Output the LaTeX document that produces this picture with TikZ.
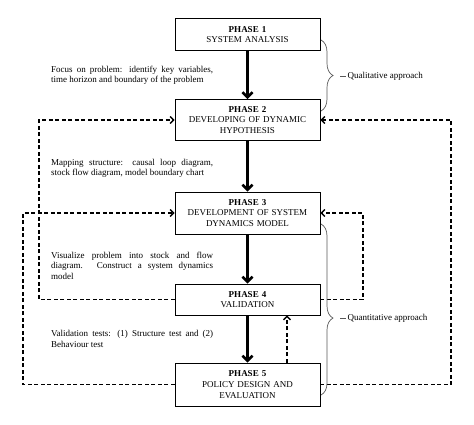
\documentclass[tikz,border=0pt]{standalone}
\usepackage{fontspec}
\setmainfont{Liberation Serif}
\usepackage{tikz}
\usetikzlibrary{arrows.meta}
\usetikzlibrary{decorations.pathreplacing}
\usetikzlibrary{positioning}

\tikzset{
    phase/.style = {draw, line width=0.9pt, minimum width=145pt, text width=140pt,
        align=center, inner sep=2pt, font=\fontsize{9}{10.8}\selectfont},
    note/.style = {text width=162pt, align=justify, inner sep=0pt, anchor=west,
        font=\fontsize{9}{10.6}\selectfont},
    flow/.style = {line width=2.6pt, -{Straight Barb[length=5pt,width=10pt]}},
    back/.style = {line width=1.4pt, dash pattern=on 4pt off 2.5pt,
        -{Straight Barb[length=3.5pt,width=7pt]}},
    group/.style = {draw=black!65, line width=0.7pt, decorate},
}

\begin{document}
\begin{tikzpicture}[x=1pt, y=-1pt]
            \useasboundingbox (0,0) rectangle (474,425);

            \node[phase, minimum height=32pt] (p1) at (247.5,34.5) {\textbf{PHASE 1}\\SYSTEM ANALYSIS};
            \node[phase, minimum height=41pt] (p2) at (247.5,120) {\textbf{PHASE 2}\\DEVELOPING OF DYNAMIC\\HYPOTHESIS};
            \node[phase, minimum height=42pt] (p3) at (247.5,213) {\textbf{PHASE 3}\\DEVELOPMENT OF SYSTEM\\DYNAMICS MODEL};
            \node[phase, minimum height=31pt] (p4) at (247.5,299.5) {\textbf{PHASE 4}\\VALIDATION};
            \node[phase, minimum height=43pt] (p5) at (247.5,384.5) {\textbf{PHASE 5}\\POLICY DESIGN AND\\EVALUATION};

            \node[note] (n1) at (51,75.5) {Focus on problem: identify key variables,\linebreak time horizon and boundary of the problem};
            \node[note] (n2) at (51,168.5) {Mapping structure: causal loop diagram,\linebreak stock flow diagram, model boundary chart};
            \node[note] (n3) at (51,265.5) {Visualize problem into stock and flow\linebreak diagram. Construct a system dynamics\linebreak model};
            \node[note] (n4) at (51,339) {Validation tests: (1) Structure test and (2)\linebreak Behaviour test};

            \draw[flow] (p1) -- (p2);
            \draw[flow] (p2) -- (p3);
            \draw[flow] (p3) -- (p4);
            \draw[flow] (p4) -- (p5);

            % feedback loops
            \coordinate (xa) at (39,0);
            \coordinate (xb) at (23,0);
            \coordinate (xc) at (363,0);
            \coordinate (xd) at (451,0);
            \coordinate (xe) at (287,0);
            \draw[back] (p4.west) -- (p4.west -| xa) |- (p2.west);
            \draw[back] (p5.west) -- (p5.west -| xb) |- (p3.west);
            \draw[back] (p4.east) -- (p4.east -| xc) |- (p3.east);
            \draw[back] (p5.east) -- (p5.east -| xd) |- (p2.east);
            \draw[back] (p5.north -| xe) -- (p4.south -| xe);

            % approaches
            \coordinate (qlt) at (321,40);
            \coordinate (qlb) at (321,111);
            \coordinate (qnt) at (321,224);
            \coordinate (qnb) at (321,395);
            \draw[group, decoration={brace, amplitude=12pt}] (qlt) -- (qlb);
            \draw[group, decoration={brace, amplitude=12pt, aspect=0.55}] (qnt) -- (qnb);

            \node[anchor=west, inner sep=1.5pt, font=\fontsize{9}{10.8}\selectfont] (ql) at (346,76) {Qualitative approach};
            \node[anchor=west, inner sep=1.5pt, font=\fontsize{9}{10.8}\selectfont] (qn) at (346,318.5) {Quantitative approach};
            \coordinate (qld) at (340,76);
            \coordinate (qnd) at (340,318.5);
            \draw[black!65, line width=0.7pt] (qld) -- (ql.west);
            \draw[black!65, line width=0.7pt] (qnd) -- (qn.west);
\end{tikzpicture}
\end{document}
